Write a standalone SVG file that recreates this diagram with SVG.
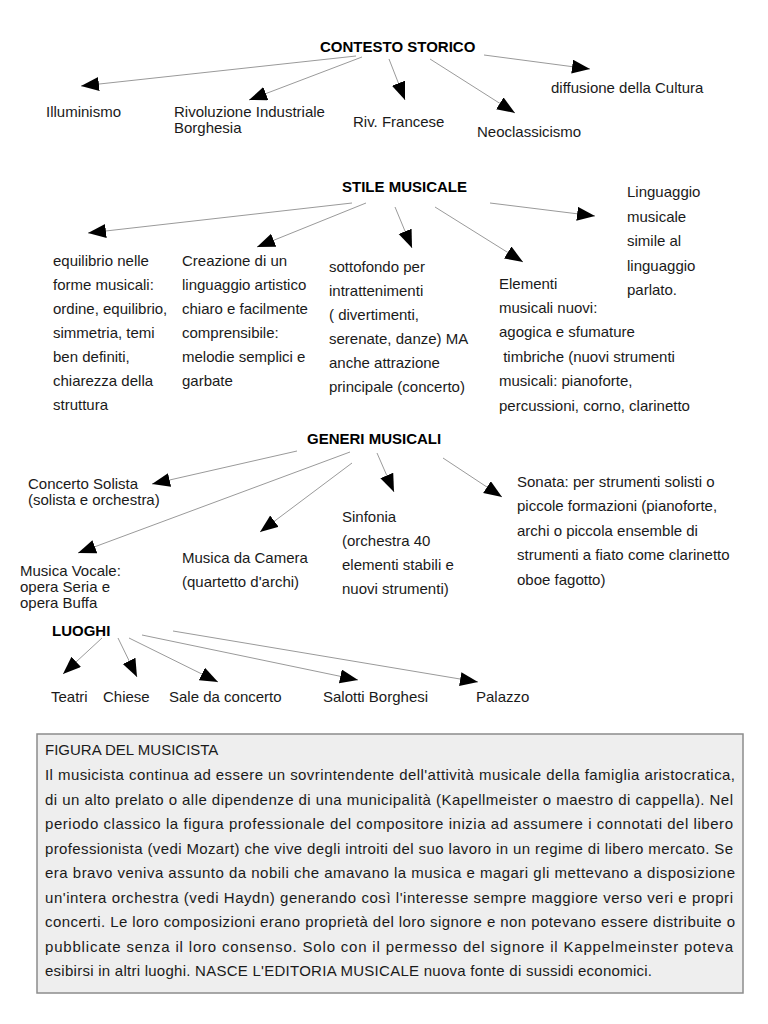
<svg xmlns="http://www.w3.org/2000/svg" width="768" height="1024" viewBox="0 0 768 1024">
<style>
text{font-family:"Liberation Sans",Arial,sans-serif;font-size:15px;fill:#1a1a1a}
.t{font-weight:bold;font-size:15px;fill:#000}
.c line{stroke:#9a9a9a;stroke-width:1;marker-end:url(#ah)}
.box{fill:#eeeeee;stroke:#8c8c8c;stroke-width:1.5}
</style>
<defs>
<marker id="ah" markerUnits="userSpaceOnUse" markerWidth="19" markerHeight="15" refX="18" refY="7" orient="auto">
<path d="M0,0 L18,7 L0,14 z" fill="#000"/>
</marker>
</defs>
<rect width="768" height="1024" fill="#fff"/>

<g id="connectors" class="c">
<line x1="356" y1="56" x2="81" y2="86"/>
<line x1="362" y1="57" x2="249" y2="100"/>
<line x1="389" y1="59" x2="405" y2="100"/>
<line x1="430" y1="59" x2="515" y2="113"/>
<line x1="484" y1="55" x2="590" y2="69"/>
<line x1="352" y1="203" x2="88" y2="233"/>
<line x1="366" y1="203" x2="257" y2="247"/>
<line x1="395" y1="207" x2="412" y2="248"/>
<line x1="435" y1="207" x2="523" y2="262"/>
<line x1="490" y1="203" x2="595" y2="216"/>
<line x1="297" y1="451" x2="152" y2="484"/>
<line x1="350" y1="452" x2="78" y2="553"/>
<line x1="352" y1="463" x2="260" y2="532"/>
<line x1="377" y1="453" x2="394" y2="492"/>
<line x1="443" y1="458" x2="502" y2="497"/>
<line x1="102" y1="638" x2="63" y2="674"/>
<line x1="118" y1="638" x2="137" y2="677"/>
<line x1="129" y1="638" x2="218" y2="682"/>
<line x1="142" y1="635" x2="358" y2="680"/>
<line x1="173" y1="631" x2="478" y2="682"/>
</g>

<g id="contesto-storico"><text class="t" x="320" y="52">CONTESTO STORICO</text></g>
<g id="illuminismo"><text x="46" y="117">Illuminismo</text></g>
<g id="rivoluzione"><text x="174" y="117">Rivoluzione Industriale</text><text x="174" y="133">Borghesia</text></g>
<g id="riv-francese"><text x="353" y="127">Riv. Francese</text></g>
<g id="neoclassicismo"><text x="477" y="137">Neoclassicismo</text></g>
<g id="diffusione"><text x="551" y="93">diffusione della Cultura</text></g>

<g id="stile-musicale"><text class="t" x="342" y="192">STILE MUSICALE</text></g>
<g id="equilibrio">
<text x="53" y="266">equilibrio nelle</text>
<text x="53" y="290">forme musicali:</text>
<text x="53" y="314">ordine, equilibrio,</text>
<text x="53" y="338">simmetria, temi</text>
<text x="53" y="362">ben definiti,</text>
<text x="53" y="386">chiarezza della</text>
<text x="53" y="410">struttura</text>
</g>
<g id="creazione">
<text x="182" y="266">Creazione di un</text>
<text x="182" y="290">linguaggio artistico</text>
<text x="182" y="314">chiaro e facilmente</text>
<text x="182" y="338">comprensibile:</text>
<text x="182" y="362">melodie semplici e</text>
<text x="182" y="386">garbate</text>
</g>
<g id="sottofondo">
<text x="329" y="272">sottofondo per</text>
<text x="329" y="296">intrattenimenti</text>
<text x="329" y="320">( divertimenti,</text>
<text x="329" y="344">serenate, danze) MA</text>
<text x="329" y="368">anche attrazione</text>
<text x="329" y="392">principale (concerto)</text>
</g>
<g id="elementi">
<text x="499" y="289">Elementi</text>
<text x="499" y="313">musicali nuovi:</text>
<text x="499" y="337">agogica e sfumature</text>
<text x="499" y="362" xml:space="preserve"> timbriche (nuovi strumenti</text>
<text x="499" y="386">musicali: pianoforte,</text>
<text x="499" y="411">percussioni, corno, clarinetto</text>
</g>
<g id="linguaggio">
<text x="627" y="197">Linguaggio</text>
<text x="627" y="222">musicale</text>
<text x="627" y="246">simile al</text>
<text x="627" y="271">linguaggio</text>
<text x="627" y="295">parlato.</text>
</g>

<g id="generi-musicali"><text class="t" x="307" y="444">GENERI MUSICALI</text></g>
<g id="concerto-solista"><text x="28" y="489">Concerto Solista</text><text x="28" y="505">(solista e orchestra)</text></g>
<g id="musica-vocale"><text x="20" y="576">Musica Vocale:</text><text x="20" y="592">opera Seria e</text><text x="20" y="608">opera Buffa</text></g>
<g id="musica-camera"><text x="182" y="563">Musica da Camera</text><text x="182" y="587">(quartetto d'archi)</text></g>
<g id="sinfonia">
<text x="342" y="522">Sinfonia</text>
<text x="342" y="546">(orchestra 40</text>
<text x="342" y="570">elementi stabili e</text>
<text x="342" y="594">nuovi strumenti)</text>
</g>
<g id="sonata">
<text x="517" y="487">Sonata: per strumenti solisti o</text>
<text x="517" y="511">piccole formazioni (pianoforte,</text>
<text x="517" y="536">archi o piccola ensemble di</text>
<text x="517" y="560">strumenti a fiato come clarinetto</text>
<text x="517" y="585">oboe fagotto)</text>
</g>

<g id="luoghi"><text class="t" x="52" y="636">LUOGHI</text></g>
<g id="teatri"><text x="51" y="702">Teatri</text></g>
<g id="chiese"><text x="103" y="702">Chiese</text></g>
<g id="sale"><text x="169" y="702">Sale da concerto</text></g>
<g id="salotti"><text x="323" y="702">Salotti Borghesi</text></g>
<g id="palazzo"><text x="476" y="702">Palazzo</text></g>

<g id="figura-musicista">
<rect class="box" x="37" y="734" width="706" height="259"/>
<text x="45" y="755">FIGURA DEL MUSICISTA</text>
<text x="45" y="780" textLength="690" lengthAdjust="spacing">Il musicista continua ad essere un sovrintendente dell'attività musicale della famiglia aristocratica,</text>
<text x="45" y="805" textLength="688" lengthAdjust="spacing">di un alto prelato o alle dipendenze di una municipalità (Kapellmeister o maestro di cappella). Nel</text>
<text x="45" y="829" textLength="688" lengthAdjust="spacing">periodo classico la figura professionale del compositore inizia ad assumere i connotati del libero</text>
<text x="45" y="854" textLength="688" lengthAdjust="spacing">professionista (vedi Mozart) che vive degli introiti del suo lavoro in un regime di libero mercato. Se</text>
<text x="45" y="878" textLength="690" lengthAdjust="spacing">era bravo veniva assunto da nobili che amavano la musica e magari gli mettevano a disposizione</text>
<text x="45" y="903" textLength="688" lengthAdjust="spacing">un'intera orchestra (vedi Haydn) generando così l'interesse sempre maggiore verso veri e propri</text>
<text x="45" y="927" textLength="690" lengthAdjust="spacing">concerti. Le loro composizioni erano proprietà del loro signore e non potevano essere distribuite o</text>
<text x="45" y="952" textLength="688" lengthAdjust="spacing">pubblicate senza il loro consenso. Solo con il permesso del signore il Kappelmeinster poteva</text>
<text x="45" y="976" textLength="607" lengthAdjust="spacing">esibirsi in altri luoghi. NASCE L'EDITORIA MUSICALE nuova fonte di sussidi economici.</text>
</g>
</svg>
